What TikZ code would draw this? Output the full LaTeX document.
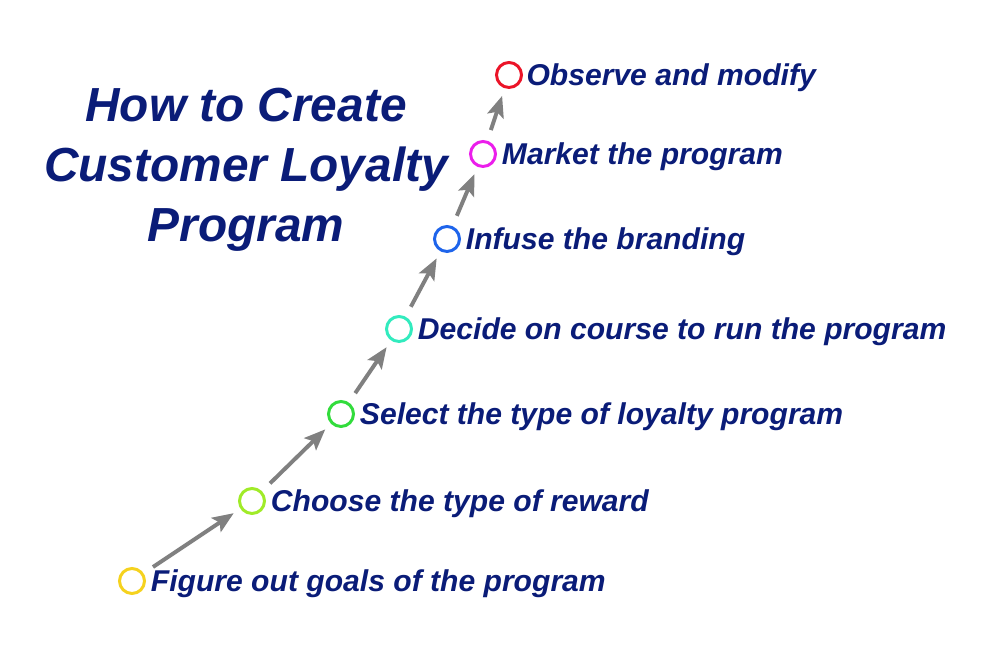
\documentclass[tikz,border=0pt]{standalone}
\usepackage{fontspec}
\setmainfont{Liberation Sans}
\usetikzlibrary{positioning,arrows.meta}

\definecolor{navytext}{RGB}{10,28,120}
\definecolor{ringyellow}{RGB}{245,210,30}
\definecolor{ringlime}{RGB}{160,235,40}
\definecolor{ringgreen}{RGB}{50,220,60}
\definecolor{ringteal}{RGB}{50,235,190}
\definecolor{ringblue}{RGB}{30,100,235}
\definecolor{ringmagenta}{RGB}{235,30,235}
\definecolor{ringred}{RGB}{235,20,40}

\tikzset{
    ring/.style={circle, draw=#1, line width=2.1pt, minimum size=0.625cm, inner sep=0pt},
    steplabel/.style={text=navytext, font=\fontsize{21.4}{25}\selectfont\bfseries\itshape,
        text height=15.3pt, text depth=0pt, anchor=west},
    uparrow/.style={draw=gray, line width=2.8pt, shorten <=0.28cm, shorten >=0.2cm,
        -{Stealth[length=15pt, width=12pt, inset=3pt]}}
}

\begin{document}
\begin{tikzpicture}[x=0.025cm, y=0.025cm]
            \useasboundingbox (0,0) rectangle (1000,663);

            \node[text=navytext, align=center, font=\fontsize{34}{42.7}\selectfont\bfseries\itshape] (title) at (246,493)
                {How to Create\\Customer Loyalty\\Program};

            \node[ring=ringyellow]  (goals)    at (132,82)  {};
            \node[ring=ringlime]    (reward)   at (252,162) {};
            \node[ring=ringgreen]   (type)     at (341,249) {};
            \node[ring=ringteal]    (course)   at (399,334) {};
            \node[ring=ringblue]    (branding) at (447,424) {};
            \node[ring=ringmagenta] (market)   at (483,509) {};
            \node[ring=ringred]     (observe)  at (509,588) {};

            \node[steplabel, right=0pt of goals]    (goalstext)    {Figure out goals of the program};
            \node[steplabel, right=0pt of reward]   (rewardtext)   {Choose the type of reward};
            \node[steplabel, right=0pt of type]     (typetext)     {Select the type of loyalty program};
            \node[steplabel, right=0pt of course]   (coursetext)   {Decide on course to run the program};
            \node[steplabel, right=0pt of branding] (brandingtext) {Infuse the branding};
            \node[steplabel, right=0pt of market]   (markettext)   {Market the program};
            \node[steplabel, right=-1pt of observe] (observetext)  {Observe and modify};

            \draw[uparrow] (goals) -- (reward);
            \draw[uparrow] (reward) -- (type);
            \draw[uparrow] (type) -- (course);
            \draw[uparrow] (course) -- (branding);
            \draw[uparrow] (branding) -- (market);
            \draw[uparrow] (market) -- (observe);
        \end{tikzpicture}
\end{document}
